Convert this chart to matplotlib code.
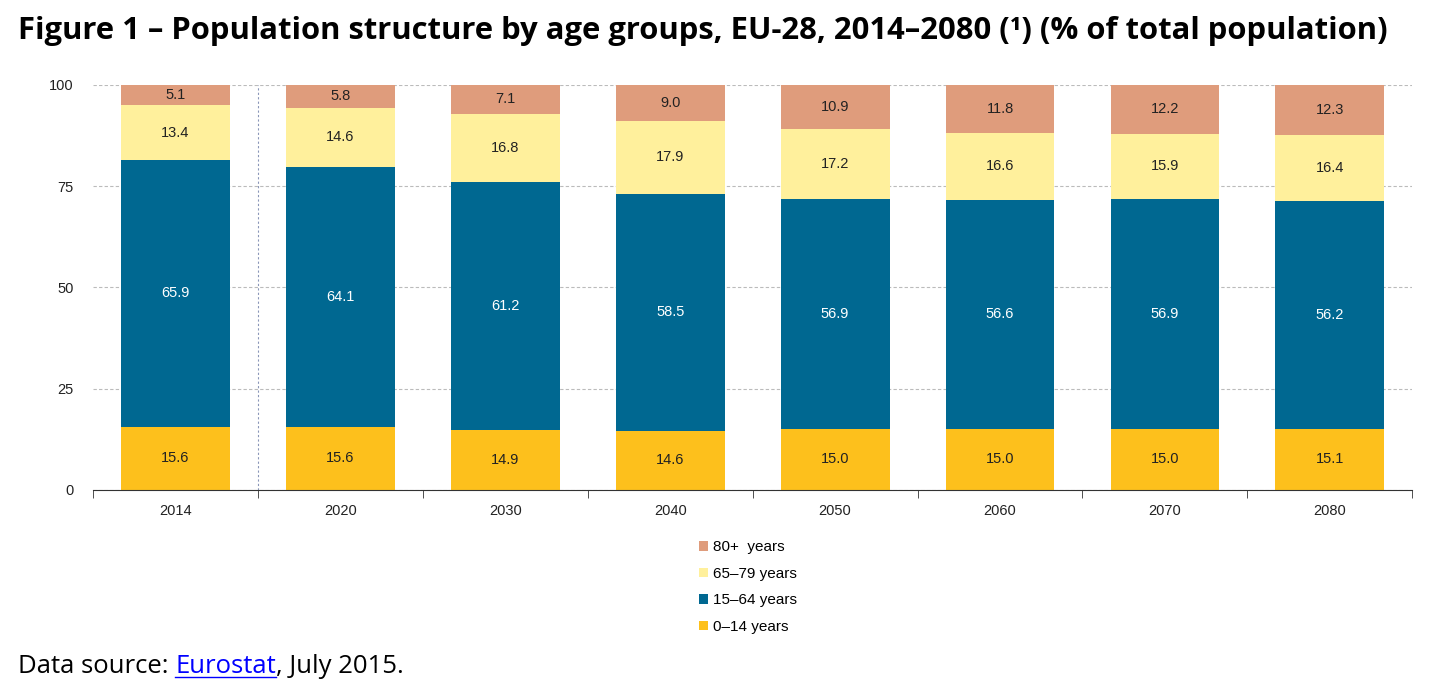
import matplotlib.pyplot as plt
import numpy as np

years = ["2014", "2020", "2030", "2040", "2050", "2060", "2070", "2080"]
age_0_14 = [15.6, 15.6, 14.9, 14.6, 15.0, 15.0, 15.0, 15.1]
age_15_64 = [65.9, 64.1, 61.2, 58.5, 56.9, 56.6, 56.9, 56.2]
age_65_79 = [13.4, 14.6, 16.8, 17.9, 17.2, 16.6, 15.9, 16.4]
age_80 = [5.1, 5.8, 7.1, 9.0, 10.9, 11.8, 12.2, 12.3]

labels = ["0\u201314 years", "15\u201364 years", "65\u201379 years", "80+  years"]
colors = ["#FDC01C", "#006891", "#FFF09C", "#DF9C7C"]
text_colors = ["#222222", "white", "#222222", "#222222"]

plt.rcParams['font.family'] = ['Liberation Sans', 'DejaVu Sans']

fig = plt.figure(figsize=(14.53, 6.89), dpi=100)
ax = fig.add_axes([0.064, 0.289, 0.908, 0.588])

x = np.arange(len(years))
series = [age_0_14, age_15_64, age_65_79, age_80]
bottom = np.zeros(len(years))
handles = []
for vals, lab, col, tc in zip(series, labels, colors, text_colors):
	vals = np.array(vals)
	bars = ax.bar(x, vals, 0.66, bottom=bottom, color=col, label=lab, zorder=2)
	handles.append(bars)
	for xi, b, v in zip(x, bottom, vals):
		ax.text(xi, b + v / 2, "%.1f" % v, ha="center", va="center", color=tc, fontsize=10.5, zorder=3)
	bottom = bottom + vals

ax.set_xlim(-0.5, len(years) - 0.5)
ax.set_ylim(0, 100)
ax.set_yticks([0, 25, 50, 75, 100])
ax.yaxis.grid(True, linestyle=(0, (3, 2)), color="#BBBBBB", linewidth=0.8, zorder=0)
ax.set_xticks(x)
ax.set_xticklabels(years)
ax.set_xticks(np.arange(len(years) + 1) - 0.5, minor=True)
ax.tick_params(axis="x", which="major", length=0, pad=10, labelsize=10.5, labelcolor="#222222")
ax.tick_params(axis="x", which="minor", length=6, direction="out", color="#333333")
ax.tick_params(axis="y", length=0, pad=14, labelsize=10.5, labelcolor="#222222")
for s in ["top", "right", "left"]:
	ax.spines[s].set_visible(False)
ax.spines["bottom"].set_color("#333333")
ax.axvline(0.5, color="#8A96B8", linestyle=(0, (2, 2)), linewidth=0.8, zorder=1)

leg = fig.legend(handles[::-1], labels[::-1], loc="upper left", bbox_to_anchor=(0.476, 0.227),
	frameon=False, fontsize=11, handlelength=0.6, handleheight=0.6, handletextpad=0.3,
	labelspacing=0.82, borderpad=0)

fig.text(0.0125, 0.955, "Figure 1 \u2013 Population structure by age groups, EU-28, 2014\u20132080 (\u00b9) (% of total population)",
	fontsize=22.3, fontweight="bold", ha="left", va="center", family=["Open Sans", "DejaVu Sans"])

fs = 18.5
t1 = fig.text(0.0125, 0.032, "Data source: ", fontsize=fs, ha="left", va="center", family=["Open Sans", "DejaVu Sans"])
fig.canvas.draw()
bb = t1.get_window_extent()
x2 = bb.x1 / fig.bbox.width
t2 = fig.text(x2, 0.032, "Eurostat", fontsize=fs, ha="left", va="center", color="#0000FF", family=["Open Sans", "DejaVu Sans"])
fig.canvas.draw()
bb2 = t2.get_window_extent()
fig.text(bb2.x1 / fig.bbox.width, 0.032, ", July 2015.", fontsize=fs, ha="left", va="center", family=["Open Sans", "DejaVu Sans"])
fig.add_artist(plt.Line2D([bb2.x0 / fig.bbox.width, bb2.x1 / fig.bbox.width], [bb2.y0 / fig.bbox.height + 0.004] * 2,
	color="#0000FF", linewidth=1))

fig.savefig("out.png", dpi=100)
